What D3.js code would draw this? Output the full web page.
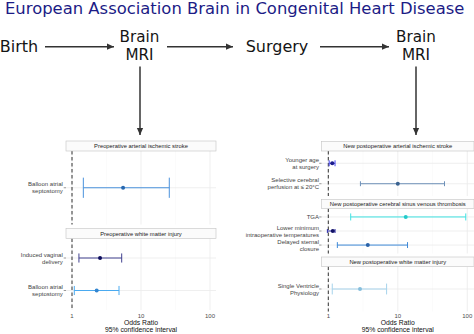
<!DOCTYPE html>
<html><head><meta charset="utf-8">
<script src="https://cdn.jsdelivr.net/npm/d3@7"></script>
<style>html,body{margin:0;padding:0;background:#fff;}svg{display:block;}</style>
</head><body>
<script>
// ---- data ----
const title = "European Association Brain in Congenital Heart Disease";
const flowSteps = ["Birth", "Brain\nMRI", "Surgery", "Brain\nMRI"];
const panels = [
  "Preoperative arterial ischemic stroke",
  "Preoperative white matter injury",
  "New postoperative arterial ischemic stroke",
  "New postoperative cerebral sinus venous thrombosis",
  "New postoperative white matter injury"
];
const rowPanel = [0, 1, 1, 2, 2, 3, 3, 3, 4];
const rowLabels = [
  "Balloon atrial\nseptostomy",
  "Induced vaginal\ndelivery",
  "Balloon atrial\nseptostomy",
  "Younger age\nat surgery",
  "Selective cerebral\nperfusion at \u2264 20\u00B0C",
  "TGA",
  "Lower minimum\nintraoperative temperatures",
  "Delayed sternal\nclosure",
  "Single Ventricle\nPhysiology"
];
const oddsRatio = [5.5, 2.55, 2.28, 1.14, 10, 13, 1.16, 3.7, 2.86];
const ciLower   = [1.46, 1.26, 1.08, 1.03, 2.9, 2.1, 0.97, 1.35, 1.14];
const ciUpper   = [25.7, 5.25, 4.8, 1.25, 47, 95, 1.25, 13.8, 6.9];
const capWidth  = [0.33, 0.28, 0.28, 0.29, 0.24, 0.5, 0.28, 0.42, 0.29];
const xTicks = [1, 10, 100];
const xTitle = ["Odds Ratio", "95% confidence interval"];

// ---- styles ----
const lineColors  = ["#4a92dc", "#40408f", "#4aaaf0", "#4848ee", "#6d90b8", "#3fe3e3", "#2a2aa8", "#3f8ad8", "#a6d3ec"];
const pointColors = ["#2868b0", "#0c0c5c", "#3385d0", "#1c1c8c", "#3a6290", "#22caca", "#121266", "#2a62a8", "#86bedc"];

const W = 474, H = 334;
const svg = d3.select("body").append("svg").attr("width", W).attr("height", H);

// ---- title ----
const t = svg.append("text").attr("x", 5).attr("y", 14)
  .attr("font-family", "DejaVu Sans").attr("font-size", 16).attr("fill", "#1c1c86").text(title);
const tl = t.node().getComputedTextLength();
t.attr("font-size", 16 * 460 / tl);

// ---- flowchart ----
const flowX = [19, 139.5, 277, 416];
const ff = "DejaVu Sans";
flowSteps.forEach((s, i) => {
  const lines = s.split("\n");
  const fs = lines.length === 1 ? 16 : 15.2;
  const base = lines.length === 1 ? 52 : 42.4;
  lines.forEach((l, j) => svg.append("text").attr("x", flowX[i]).attr("y", base + j * 17.9)
    .attr("text-anchor", "middle").attr("font-family", ff).attr("font-size", fs).attr("fill", "#151515").text(l));
});
const defs = svg.append("defs");
defs.append("marker").attr("id", "ah").attr("viewBox", "0 0 10 10").attr("refX", 10).attr("refY", 5)
  .attr("markerWidth", 5).attr("markerHeight", 5).attr("orient", "auto").attr("markerUnits", "strokeWidth")
  .append("path").attr("d", "M0,0.5 L10,5 L0,9.5 Z").attr("fill", "#333");
const arrows = [[45, 46.7, 114, 46.7], [167, 46.7, 233, 46.7], [320, 46.7, 389, 46.7], [140, 66.5, 140, 135], [416, 66.5, 416, 135]];
arrows.forEach(a => svg.append("line").attr("x1", a[0]).attr("y1", a[1]).attr("x2", a[2]).attr("y2", a[3])
  .attr("stroke", "#333").attr("stroke-width", 1.5).attr("marker-end", "url(#ah)"));

// ---- forest panels ----
const cols = [
  { left: 66, right: 216, x: d3.scaleLog().domain([1, 100]).range([72, 210]), labelX: 62.8 },
  { left: 321.5, right: 474, x: d3.scaleLog().domain([1, 100]).range([328.3, 467.3]), labelX: 319 }
];
const panelLayout = [
  { col: 0, strip: [141, 151], plot: [151, 224.5] },
  { col: 0, strip: [228.5, 238.5], plot: [238.5, 310] },
  { col: 1, strip: [141.5, 151], plot: [151, 196] },
  { col: 1, strip: [199.5, 208.5], plot: [208.5, 253.5] },
  { col: 1, strip: [257, 266.5], plot: [266.5, 311.5] }
];
const cf = "Liberation Sans, Arial, sans-serif";

panels.forEach((name, p) => {
  const L = panelLayout[p], C = cols[L.col], x = C.x;
  const rows = d3.range(rowLabels.length).filter(i => rowPanel[i] === p);
  const y = d3.scalePoint().domain(rows).range(L.plot).padding(0.6);
  const unit = rows.length > 1 ? y.step() : (L.plot[1] - L.plot[0]) / 1.2;
  const g = svg.append("g");
  // grid
  xTicks.forEach(v => g.append("line").attr("x1", x(v)).attr("x2", x(v)).attr("y1", L.plot[0]).attr("y2", L.plot[1])
    .attr("stroke", "#ebebeb").attr("stroke-width", 0.8));
  [3.1623, 31.623].forEach(v => g.append("line").attr("x1", x(v)).attr("x2", x(v)).attr("y1", L.plot[0]).attr("y2", L.plot[1])
    .attr("stroke", "#f6f6f6").attr("stroke-width", 0.5));
  rows.forEach(i => g.append("line").attr("x1", C.left).attr("x2", C.right).attr("y1", y(i)).attr("y2", y(i))
    .attr("stroke", "#ebebeb").attr("stroke-width", 0.8));
  // reference line at OR = 1
  g.append("line").attr("x1", x(1)).attr("x2", x(1)).attr("y1", L.plot[0]).attr("y2", L.plot[1])
    .attr("stroke", "#333").attr("stroke-width", 1).attr("stroke-dasharray", "3.5,2.5");
  // strip
  g.append("rect").attr("x", C.left).attr("y", L.strip[0]).attr("width", C.right - C.left).attr("height", L.strip[1] - L.strip[0])
    .attr("fill", "#fbfbfb").attr("stroke", "#c4c4c4").attr("stroke-width", 0.6);
  g.append("text").attr("x", (C.left + C.right) / 2).attr("y", (L.strip[0] + L.strip[1]) / 2 + 2)
    .attr("text-anchor", "middle").attr("font-family", cf).attr("font-size", 5.8).attr("fill", "#1a1a1a").text(name);
  // rows
  rows.forEach(i => {
    const yy = y(i), cw = capWidth[i] * unit / 2;
    g.append("line").attr("x1", x(ciLower[i])).attr("x2", x(ciUpper[i])).attr("y1", yy).attr("y2", yy)
      .attr("stroke", lineColors[i]).attr("stroke-width", 1);
    [ciLower[i], ciUpper[i]].forEach(v => g.append("line").attr("x1", x(v)).attr("x2", x(v))
      .attr("y1", yy - cw).attr("y2", yy + cw).attr("stroke", lineColors[i]).attr("stroke-width", 1));
    g.append("circle").attr("cx", x(oddsRatio[i])).attr("cy", yy).attr("r", 2).attr("fill", pointColors[i]);
    // y label + tick
    g.append("line").attr("x1", C.left - 2.3).attr("x2", C.left).attr("y1", yy).attr("y2", yy)
      .attr("stroke", "#333").attr("stroke-width", 0.5);
    const lines = rowLabels[i].split("\n");
    const tx = g.append("text").attr("text-anchor", "end").attr("font-family", cf).attr("font-size", 6).attr("fill", "#444");
    lines.forEach((l, j) => tx.append("tspan").attr("x", C.labelX)
      .attr("y", yy + 2.1 + (j - (lines.length - 1) / 2) * 7).text(l));
  });
});

// x axes
cols.forEach(C => {
  xTicks.forEach(v => svg.append("text").attr("x", C.x(v)).attr("y", 317.5).attr("text-anchor", "middle")
    .attr("font-family", cf).attr("font-size", 6).attr("fill", "#4d4d4d").text(d3.format("d")(v)));
  xTitle.forEach((s, j) => svg.append("text").attr("x", (C.left + C.right) / 2).attr("y", 324.8 + j * 7.6)
    .attr("text-anchor", "middle").attr("font-family", cf).attr("font-size", 6.8).attr("fill", "#111").text(s));
});
</script>
</body></html>
